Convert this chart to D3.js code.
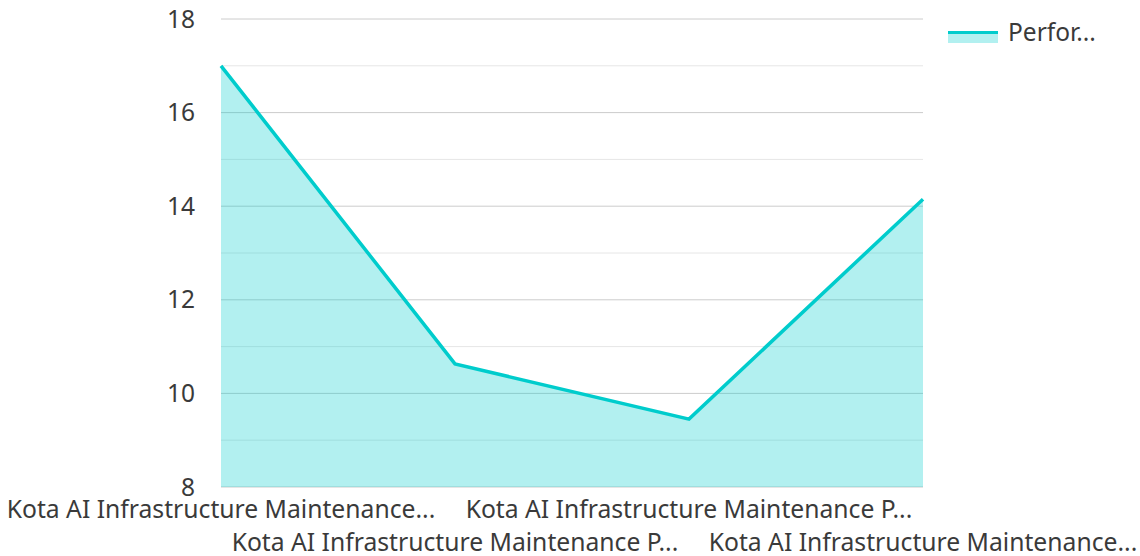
<!DOCTYPE html>
<html>
<head>
<meta charset="utf-8">
<script src="https://cdn.jsdelivr.net/npm/d3@7"></script>
<style>
  body { margin: 0; background: #fff; }
  text { font-family: "Noto Sans", "Open Sans", sans-serif; fill: #3a3a3a; }
</style>
</head>
<body>
<script>
const width = 1140
const height = 556

const categories = [
  'Kota AI Infrastructure Maintenance...',
  'Kota AI Infrastructure Maintenance P...',
  'Kota AI Infrastructure Maintenance P...',
  'Kota AI Infrastructure Maintenance...'
]
const values = [17.0, 10.63, 9.45, 14.15]
const seriesName = 'Perfor...'
const yTicks = [8, 10, 12, 14, 16, 18]
const yMinorTicks = [9, 11, 13, 15, 17]

const margin = {left: 221, right: 217, top: 19, bottom: 69}
const color = '#00cccc'

const svg = d3.select('body')
  .append('svg')
  .attr('width', width)
  .attr('height', height)

const x = d3.scalePoint()
  .domain(d3.range(categories.length))
  .range([margin.left, width - margin.right])

const y = d3.scaleLinear()
  .domain([8, 18])
  .range([height - margin.bottom, margin.top])

// grid
svg.append('g')
  .selectAll('line')
  .data(yMinorTicks)
  .enter()
  .append('line')
  .attr('x1', margin.left)
  .attr('x2', width - margin.right)
  .attr('y1', (d) => y(d))
  .attr('y2', (d) => y(d))
  .attr('stroke', '#e6e6e6')

svg.append('g')
  .selectAll('line')
  .data(yTicks)
  .enter()
  .append('line')
  .attr('x1', margin.left)
  .attr('x2', width - margin.right)
  .attr('y1', (d) => y(d))
  .attr('y2', (d) => y(d))
  .attr('stroke', '#cccccc')

svg.append('g')
  .selectAll('text')
  .data(yTicks)
  .enter()
  .append('text')
  .attr('x', 195)
  .attr('y', (d) => y(d))
  .attr('dy', '0.35em')
  .attr('text-anchor', 'end')
  .style('font-size', '24.5px')
  .text((d) => d)

const area = d3.area()
  .x((d, i) => x(i))
  .y0(y(8))
  .y1((d) => y(d))

const line = d3.line()
  .x((d, i) => x(i))
  .y((d) => y(d))

svg.append('path')
  .datum(values)
  .attr('d', area)
  .attr('fill', color)
  .attr('fill-opacity', 0.3)

svg.append('path')
  .datum(values)
  .attr('d', line)
  .attr('fill', 'none')
  .attr('stroke', color)
  .attr('stroke-width', 3.5)

// x labels, staggered on two rows
svg.append('g')
  .selectAll('text')
  .data(categories)
  .enter()
  .append('text')
  .attr('x', (d, i) => x(i))
  .attr('y', (d, i) => i % 2 === 0 ? 518 : 551)
  .attr('text-anchor', 'middle')
  .style('font-size', '24.7px')
  .text((d) => d)

// legend
const legend = svg.append('g').attr('transform', 'translate(948,31)')
legend.append('rect')
  .attr('x', 0).attr('y', 0).attr('width', 50).attr('height', 12)
  .attr('fill', color).attr('fill-opacity', 0.3)
legend.append('line')
  .attr('x1', 0).attr('x2', 50).attr('y1', 1.5).attr('y2', 1.5)
  .attr('stroke', color).attr('stroke-width', 3)
legend.append('text')
  .attr('x', 60).attr('y', 10)
  .style('font-size', '24.5px')
  .text(seriesName)
</script>
</body>
</html>
